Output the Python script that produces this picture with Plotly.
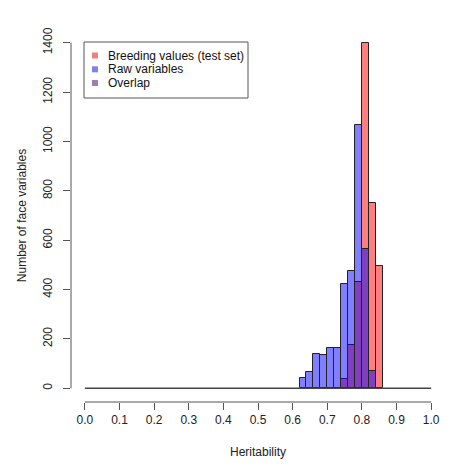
import plotly.graph_objects as go

# Bin left edges (width 0.02)
bin_width = 0.02
bins_breeding = [0.74, 0.76, 0.78, 0.80, 0.82, 0.84]
counts_breeding = [36, 177, 431, 1400, 751, 497]

bins_raw = [0.62, 0.64, 0.66, 0.68, 0.70, 0.72, 0.74, 0.76, 0.78, 0.80, 0.82]
counts_raw = [43, 67, 140, 133, 161, 161, 423, 477, 1066, 564, 70]

legend_labels = ["Breeding values (test set)", "Raw variables", "Overlap"]

x_ticks = [0.0, 0.1, 0.2, 0.3, 0.4, 0.5, 0.6, 0.7, 0.8, 0.9, 1.0]
x_tick_labels = ["0.0", "0.1", "0.2", "0.3", "0.4", "0.5", "0.6", "0.7", "0.8", "0.9", "1.0"]
y_ticks = [0, 200, 400, 600, 800, 1000, 1200, 1400]

red = "rgba(255,0,0,0.5)"
blue = "rgba(0,0,255,0.5)"
legend_colors = ["#f08080", "#8080f0", "#a080a8"]
font_family = "Liberation Sans, Arial, sans-serif"

fig = go.Figure()

# baseline from the empty bins over [0, 1]
edges = [i * bin_width for i in range(51)]
fig.add_trace(go.Scatter(x=edges, y=[0] * len(edges), mode="lines",
                         line=dict(color="#444", width=1.5), showlegend=False,
                         hoverinfo="skip"))

fig.add_trace(go.Bar(x=[b + bin_width / 2 for b in bins_breeding], y=counts_breeding,
                     width=bin_width, showlegend=False, name=legend_labels[0],
                     marker=dict(color=red, line=dict(color="#222", width=1))))
fig.add_trace(go.Bar(x=[b + bin_width / 2 for b in bins_raw], y=counts_raw,
                     width=bin_width, showlegend=False, name=legend_labels[1],
                     marker=dict(color=blue, line=dict(color="#222", width=1))))

axis_color = "#555"
fig.update_layout(
    width=474, height=474,
    margin=dict(l=71, r=29, t=29, b=72),
    paper_bgcolor="white", plot_bgcolor="white",
    barmode="overlay", bargap=0,
    font=dict(family=font_family, size=12, color="#222"),
    showlegend=False,
    xaxis=dict(range=[-0.04, 1.04], tickvals=x_ticks, ticktext=x_tick_labels,
               showgrid=False, zeroline=False, showline=False,
               ticks="outside", ticklen=7, tickcolor=axis_color,
               title=dict(text="Heritability", standoff=21, font=dict(size=12))),
    yaxis=dict(range=[-56, 1456], tickvals=y_ticks, tickangle=-90,
               showgrid=False, zeroline=False, showline=False,
               ticks="outside", ticklen=7, tickcolor=axis_color,
               ticklabelstandoff=6,
               title=dict(text="Number of face variables", standoff=12, font=dict(size=12))),
)

fig.add_shape(type="line", xref="x", yref="paper", x0=0, x1=1, y0=0, y1=0,
              line=dict(color=axis_color, width=1))
fig.add_shape(type="line", xref="paper", yref="y", x0=0, x1=0, y0=0, y1=1400,
              line=dict(color=axis_color, width=1))

# manual legend (pixel layout converted to paper coords)
PL, PR, PT, PB = 71, 445, 29, 402
def px(x):
    return (x - PL) / (PR - PL)
def py(y):
    return (PB - y) / (PB - PT)

fig.add_shape(type="rect", xref="paper", yref="paper",
              x0=px(84), x1=px(248), y0=py(98), y1=py(42),
              line=dict(color="#555", width=1), fillcolor="white", layer="above")
rows = [55.5, 69.3, 83]
for lab, col, yy in zip(legend_labels, legend_colors, rows):
    fig.add_shape(type="rect", xref="paper", yref="paper",
                  x0=px(92), x1=px(98), y0=py(yy + 3), y1=py(yy - 3),
                  line=dict(width=0), fillcolor=col, layer="above")
    fig.add_annotation(xref="paper", yref="paper", x=px(106), y=py(yy),
                       xanchor="left", yanchor="middle", text=lab, showarrow=False,
                       font=dict(size=12, color="#111"))

fig.write_html("out.html")
